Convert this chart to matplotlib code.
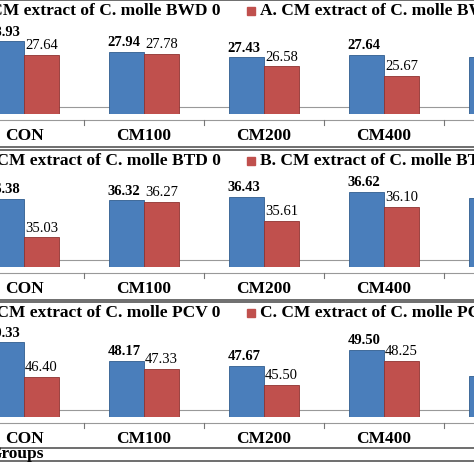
import matplotlib
matplotlib.use("Agg")
import matplotlib.pyplot as plt
from matplotlib.patches import Rectangle

categories = ["CON", "CM100", "CM200", "CM400", "CM800"]
bwd_day0 = [28.93, 27.94, 27.43, 27.64, 27.50]
bwd_day14 = [27.64, 27.78, 26.58, 25.67, 26.90]
btd_day0 = [36.38, 36.32, 36.43, 36.62, 36.40]
btd_day14 = [35.03, 36.27, 35.61, 36.10, 35.80]
pcv_day0 = [50.33, 48.17, 47.67, 49.50, 46.50]
pcv_day14 = [46.40, 47.33, 45.50, 48.25, 46.00]
legend_blue = ["A. CM extract of C. molle BWD 0", "B. CM extract of C. molle BTD 0", "C. CM extract of C. molle PCV 0"]
legend_red = ["A. CM extract of C. molle BWD 14", "B. CM extract of C. molle BTD 14", "C. CM extract of C. molle PCV 14"]

W = H = 474
fig = plt.figure(figsize=(4.74, 4.74), dpi=100)
fig.patch.set_facecolor("white")
FONT = "Liberation Serif"
BLUE, RED = "#4a7ebb", "#c0504d"

panels = [
    (bwd_day0, bwd_day14, (22.1, 30.0), 30, 114, 107, 0, 147),
    (btd_day0, btd_day14, (34.0, 37.03), 180, 267, 260, 150, 300),
    (pcv_day0, pcv_day14, (41.8, 51.74), 330, 417, 410, 302, 448),
]
xl = (-0.2, 3.75)

def fx(x):
    return (x - xl[0]) / (xl[1] - xl[0])

for i, (b, r, yl, top, bot, gl, ptop, pbot) in enumerate(panels):
    fig.add_artist(Rectangle((-0.01, 1 - pbot / H), 1.02, (pbot - ptop) / H,
                             transform=fig.transFigure, fill=False, ec="#555555", lw=1.2))
    ax = fig.add_axes([0, 1 - bot / H, 1, (bot - top) / H])
    ax.set_xlim(*xl)
    ax.set_ylim(*yl)
    ax.axis("off")
    x = list(range(len(categories)))
    w = 0.29
    ax.bar([v - w / 2 for v in x], [v - yl[0] for v in b], bottom=yl[0], width=w,
           color=BLUE, edgecolor="#2f5d8f", lw=0.6, zorder=3)
    ax.bar([v + w / 2 for v in x], [v - yl[0] for v in r], bottom=yl[0], width=w,
           color=RED, edgecolor="#8f3331", lw=0.6, zorder=3)
    gy = yl[0] + (bot - gl) / (bot - top) * (yl[1] - yl[0])
    ax.axhline(gy, color="#999999", lw=0.8, zorder=1)
    for k in x:
        ax.annotate(f"{b[k]:.2f}", (k - w / 2, b[k]), xytext=(-2, 2), textcoords="offset points",
                    ha="center", va="bottom", fontsize=10.5, fontweight="bold", family=FONT, zorder=5)
        ax.annotate(f"{r[k]:.2f}", (k + w / 2, r[k]), xytext=(0, 2), textcoords="offset points",
                    ha="center", va="bottom", fontsize=10.5, family=FONT, zorder=5)
    base = 1 - bot / H
    fig.add_artist(plt.Line2D([0, 1], [base - 6 / H, base - 6 / H], color="#999999", lw=0.8))
    for k in x:
        fig.text(fx(k), base - 22 / H, categories[k], ha="center", va="center",
                 fontsize=12.5, fontweight="bold", family=FONT)
        tb = fx(k + 0.5)
        fig.add_artist(plt.Line2D([tb, tb], [base - 6 / H, base - 11 / H], color="#777777", lw=0.8))
    ly = 1 - (ptop + 11) / H
    fig.text(0.465, ly, legend_blue[i], ha="right", va="center", fontsize=12.5,
             fontweight="bold", family=FONT)
    fig.add_artist(Rectangle((0.522, ly - 4 / H), 8 / W, 8 / H, transform=fig.transFigure,
                             color=RED))
    fig.text(0.548, ly, legend_red[i], ha="left", va="center", fontsize=12.5,
             fontweight="bold", family=FONT)

fig.text(-0.025, 1 - 454 / H, "Groups", ha="left", va="center", fontsize=12.5,
         fontweight="bold", family=FONT)
fig.add_artist(plt.Line2D([0, 1], [1 - 461 / H] * 2, color="#555555", lw=1.2))

fig.savefig("out.png", dpi=100)
